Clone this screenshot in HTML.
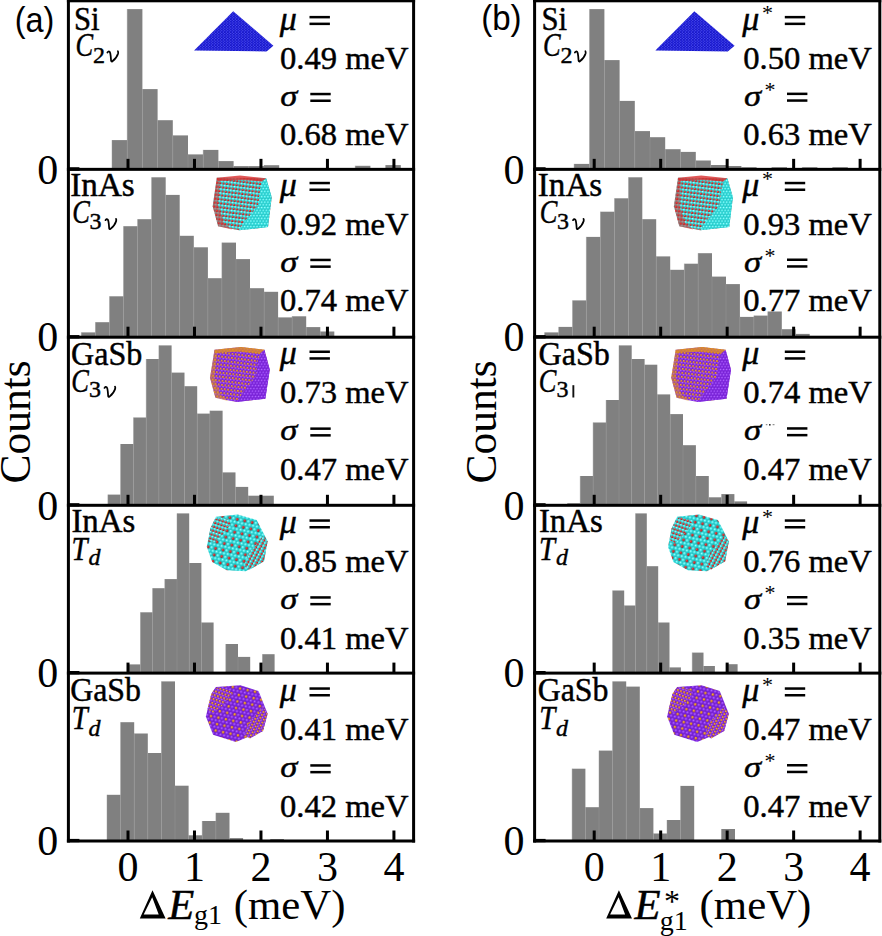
<!DOCTYPE html>
<html><head><meta charset="utf-8"><title>Histograms</title>
<style>
html,body{margin:0;padding:0;background:#fff;}
body{width:882px;height:936px;overflow:hidden;position:relative;font-family:"Liberation Serif",serif;}
svg{position:absolute;left:0;top:0;}
</style></head><body>
<svg width="882" height="936" viewBox="0 0 882 936">

<defs>
 <radialGradient id="gC" cx="0.4" cy="0.35" r="0.65"><stop offset="0" stop-color="#b8ffff"/><stop offset="0.45" stop-color="#44ecec"/><stop offset="1" stop-color="#20bcbc"/></radialGradient>
 <radialGradient id="gR" cx="0.4" cy="0.35" r="0.65"><stop offset="0" stop-color="#ff7070"/><stop offset="0.45" stop-color="#e02626"/><stop offset="1" stop-color="#a01515"/></radialGradient>
 <radialGradient id="gP" cx="0.4" cy="0.35" r="0.65"><stop offset="0" stop-color="#b878ff"/><stop offset="0.45" stop-color="#8e34ee"/><stop offset="1" stop-color="#6818c4"/></radialGradient>
 <radialGradient id="gO" cx="0.4" cy="0.35" r="0.65"><stop offset="0" stop-color="#ffc060"/><stop offset="0.45" stop-color="#ec9420"/><stop offset="1" stop-color="#b86a10"/></radialGradient>
 <radialGradient id="gB" cx="0.4" cy="0.35" r="0.65"><stop offset="0" stop-color="#5a5aff"/><stop offset="0.5" stop-color="#2020d8"/><stop offset="1" stop-color="#1212a8"/></radialGradient>
 <pattern id="pSi" width="3" height="2.6" patternUnits="userSpaceOnUse">
  <rect width="3" height="2.6" fill="#1818b8"/>
  <circle cx="0" cy="0" r="1.35" fill="url(#gB)"/><circle cx="3" cy="0" r="1.35" fill="url(#gB)"/>
  <circle cx="1.5" cy="1.3" r="1.35" fill="url(#gB)"/>
  <circle cx="0" cy="2.6" r="1.35" fill="url(#gB)"/><circle cx="3" cy="2.6" r="1.35" fill="url(#gB)"/>
 </pattern>
 <pattern id="pInMix" width="3.3" height="4" patternUnits="userSpaceOnUse" patternTransform="rotate(7)">
  <rect width="3.3" height="4" fill="#30c4c4"/>
  <circle cx="1.65" cy="1.0" r="1.7" fill="url(#gC)"/>
  <circle cx="0" cy="3.0" r="1.15" fill="url(#gR)"/><circle cx="3.3" cy="3.0" r="1.15" fill="url(#gR)"/>
 </pattern>
 <pattern id="pInCy" width="3.1" height="5.4" patternUnits="userSpaceOnUse">
  <rect width="3.1" height="5.4" fill="#30c8c8"/>
  <circle cx="0" cy="0" r="1.5" fill="url(#gC)"/><circle cx="3.1" cy="0" r="1.5" fill="url(#gC)"/>
  <circle cx="0" cy="5.4" r="1.5" fill="url(#gC)"/><circle cx="3.1" cy="5.4" r="1.5" fill="url(#gC)"/>
  <circle cx="1.55" cy="2.7" r="1.5" fill="url(#gC)"/>
 </pattern>
 <pattern id="pInTd" width="7.6" height="6.6" patternUnits="userSpaceOnUse" patternTransform="rotate(12)">
  <rect width="7.6" height="6.6" fill="#28b8b8"/>
  <circle cx="0" cy="0" r="1.85" fill="url(#gC)"/><circle cx="3.8" cy="0" r="1.85" fill="url(#gC)"/><circle cx="7.6" cy="0" r="1.85" fill="url(#gC)"/>
  <circle cx="1.9" cy="3.3" r="1.85" fill="url(#gC)"/>
  <circle cx="0" cy="6.6" r="1.85" fill="url(#gC)"/><circle cx="3.8" cy="6.6" r="1.85" fill="url(#gC)"/><circle cx="7.6" cy="6.6" r="1.85" fill="url(#gC)"/>
  <circle cx="5.7" cy="3.3" r="1.35" fill="url(#gR)"/>
 </pattern>
 <pattern id="pGaMix" width="3.3" height="4" patternUnits="userSpaceOnUse" patternTransform="rotate(7)">
  <rect width="3.3" height="4" fill="#8030d8"/>
  <circle cx="1.65" cy="1.0" r="1.7" fill="url(#gP)"/>
  <circle cx="0" cy="3.0" r="1.1" fill="url(#gO)"/><circle cx="3.3" cy="3.0" r="1.1" fill="url(#gO)"/>
 </pattern>
 <pattern id="pGaPu" width="3.1" height="5.4" patternUnits="userSpaceOnUse">
  <rect width="3.1" height="5.4" fill="#8430dc"/>
  <circle cx="0" cy="0" r="1.5" fill="url(#gP)"/><circle cx="3.1" cy="0" r="1.5" fill="url(#gP)"/>
  <circle cx="0" cy="5.4" r="1.5" fill="url(#gP)"/><circle cx="3.1" cy="5.4" r="1.5" fill="url(#gP)"/>
  <circle cx="1.55" cy="2.7" r="1.5" fill="url(#gP)"/>
 </pattern>
 <pattern id="pGaTd" width="7.6" height="6.6" patternUnits="userSpaceOnUse" patternTransform="rotate(12)">
  <rect width="7.6" height="6.6" fill="#7020c8"/>
  <circle cx="0" cy="0" r="1.85" fill="url(#gP)"/><circle cx="3.8" cy="0" r="1.85" fill="url(#gP)"/><circle cx="7.6" cy="0" r="1.85" fill="url(#gP)"/>
  <circle cx="1.9" cy="3.3" r="1.85" fill="url(#gP)"/>
  <circle cx="0" cy="6.6" r="1.85" fill="url(#gP)"/><circle cx="3.8" cy="6.6" r="1.85" fill="url(#gP)"/><circle cx="7.6" cy="6.6" r="1.85" fill="url(#gP)"/>
  <circle cx="5.7" cy="3.3" r="1.35" fill="url(#gO)"/>
 </pattern>
 <pattern id="pInStr1" width="3.3" height="4" patternUnits="userSpaceOnUse" patternTransform="rotate(18)">
  <rect width="3.3" height="4" fill="#30c4c4"/>
  <circle cx="1.65" cy="1.0" r="1.7" fill="url(#gC)"/>
  <circle cx="0" cy="3.0" r="1.2" fill="url(#gR)"/><circle cx="3.3" cy="3.0" r="1.2" fill="url(#gR)"/>
 </pattern>
 <pattern id="pInStr2" width="3.3" height="4" patternUnits="userSpaceOnUse" patternTransform="rotate(-62)">
  <rect width="3.3" height="4" fill="#30c4c4"/>
  <circle cx="1.65" cy="1.0" r="1.7" fill="url(#gC)"/>
  <circle cx="0" cy="3.0" r="1.2" fill="url(#gR)"/><circle cx="3.3" cy="3.0" r="1.2" fill="url(#gR)"/>
 </pattern>
 <pattern id="pGaStr1" width="3.3" height="4" patternUnits="userSpaceOnUse" patternTransform="rotate(18)">
  <rect width="3.3" height="4" fill="#7020c8"/>
  <circle cx="1.65" cy="1.0" r="1.7" fill="url(#gP)"/>
  <circle cx="0" cy="3.0" r="1.15" fill="url(#gO)"/><circle cx="3.3" cy="3.0" r="1.15" fill="url(#gO)"/>
 </pattern>
 <pattern id="pGaStr2" width="3.3" height="4" patternUnits="userSpaceOnUse" patternTransform="rotate(-62)">
  <rect width="3.3" height="4" fill="#7020c8"/>
  <circle cx="1.65" cy="1.0" r="1.7" fill="url(#gP)"/>
  <circle cx="0" cy="3.0" r="1.15" fill="url(#gO)"/><circle cx="3.3" cy="3.0" r="1.15" fill="url(#gO)"/>
 </pattern>
</defs>

<rect x="112" y="140.1" width="15.2" height="29.25" fill="#808080"/>
<rect x="127.2" y="9.1" width="15.2" height="160.25" fill="#808080"/>
<rect x="142.4" y="89.1" width="15.2" height="80.25" fill="#808080"/>
<rect x="157.6" y="120.2" width="15.2" height="49.15" fill="#808080"/>
<rect x="172.8" y="135.4" width="15.2" height="33.95" fill="#808080"/>
<rect x="188" y="154.4" width="15.2" height="14.95" fill="#808080"/>
<rect x="203.2" y="149.9" width="15.2" height="19.45" fill="#808080"/>
<rect x="218.4" y="161.1" width="15.2" height="8.25" fill="#808080"/>
<rect x="233.6" y="166.1" width="15.2" height="3.25" fill="#808080"/>
<rect x="248.8" y="166.1" width="15.2" height="3.25" fill="#808080"/>
<rect x="264" y="165.2" width="15.2" height="4.15" fill="#808080"/>
<rect x="355.2" y="165.8" width="15.2" height="3.55" fill="#808080"/>
<rect x="385.6" y="165.1" width="15.2" height="4.25" fill="#808080"/>
<rect x="111.6" y="140.1" width="0.8" height="29.25" fill="#999" opacity="0.55"/>
<rect x="126.8" y="9.1" width="0.8" height="160.25" fill="#999" opacity="0.55"/>
<rect x="142" y="89.1" width="0.8" height="80.25" fill="#999" opacity="0.55"/>
<rect x="157.2" y="120.2" width="0.8" height="49.15" fill="#999" opacity="0.55"/>
<rect x="172.4" y="135.4" width="0.8" height="33.95" fill="#999" opacity="0.55"/>
<rect x="187.6" y="154.4" width="0.8" height="14.95" fill="#999" opacity="0.55"/>
<rect x="202.8" y="149.9" width="0.8" height="19.45" fill="#999" opacity="0.55"/>
<rect x="218" y="161.1" width="0.8" height="8.25" fill="#999" opacity="0.55"/>
<rect x="233.2" y="166.1" width="0.8" height="3.25" fill="#999" opacity="0.55"/>
<rect x="248.4" y="166.1" width="0.8" height="3.25" fill="#999" opacity="0.55"/>
<rect x="263.6" y="165.2" width="0.8" height="4.15" fill="#999" opacity="0.55"/>
<rect x="354.8" y="165.8" width="0.8" height="3.55" fill="#999" opacity="0.55"/>
<rect x="385.2" y="165.1" width="0.8" height="4.25" fill="#999" opacity="0.55"/>
<rect x="574.1" y="163.9" width="15.4" height="5.45" fill="#808080"/>
<rect x="589.5" y="9.1" width="14.9" height="160.25" fill="#808080"/>
<rect x="604.4" y="60.1" width="15.2" height="109.25" fill="#808080"/>
<rect x="619.6" y="100.9" width="15.2" height="68.45" fill="#808080"/>
<rect x="634.8" y="131.1" width="15.2" height="38.25" fill="#808080"/>
<rect x="650" y="137.2" width="15.2" height="32.15" fill="#808080"/>
<rect x="665.2" y="149.2" width="15.4" height="20.15" fill="#808080"/>
<rect x="680.6" y="151.9" width="15.2" height="17.45" fill="#808080"/>
<rect x="695.8" y="160.5" width="15" height="8.85" fill="#808080"/>
<rect x="710.8" y="165" width="15.2" height="4.35" fill="#808080"/>
<rect x="726" y="166" width="15.4" height="3.35" fill="#808080"/>
<rect x="741.4" y="167.2" width="15.2" height="2.15" fill="#808080"/>
<rect x="771.8" y="167.2" width="15.2" height="2.15" fill="#808080"/>
<rect x="802.2" y="167.2" width="15.2" height="2.15" fill="#808080"/>
<rect x="832.6" y="167.2" width="15.2" height="2.15" fill="#808080"/>
<rect x="573.7" y="163.9" width="0.8" height="5.45" fill="#999" opacity="0.55"/>
<rect x="589.1" y="9.1" width="0.8" height="160.25" fill="#999" opacity="0.55"/>
<rect x="604" y="60.1" width="0.8" height="109.25" fill="#999" opacity="0.55"/>
<rect x="619.2" y="100.9" width="0.8" height="68.45" fill="#999" opacity="0.55"/>
<rect x="634.4" y="131.1" width="0.8" height="38.25" fill="#999" opacity="0.55"/>
<rect x="649.6" y="137.2" width="0.8" height="32.15" fill="#999" opacity="0.55"/>
<rect x="664.8" y="149.2" width="0.8" height="20.15" fill="#999" opacity="0.55"/>
<rect x="680.2" y="151.9" width="0.8" height="17.45" fill="#999" opacity="0.55"/>
<rect x="695.4" y="160.5" width="0.8" height="8.85" fill="#999" opacity="0.55"/>
<rect x="710.4" y="165" width="0.8" height="4.35" fill="#999" opacity="0.55"/>
<rect x="725.6" y="166" width="0.8" height="3.35" fill="#999" opacity="0.55"/>
<rect x="741" y="167.2" width="0.8" height="2.15" fill="#999" opacity="0.55"/>
<rect x="771.4" y="167.2" width="0.8" height="2.15" fill="#999" opacity="0.55"/>
<rect x="801.8" y="167.2" width="0.8" height="2.15" fill="#999" opacity="0.55"/>
<rect x="832.2" y="167.2" width="0.8" height="2.15" fill="#999" opacity="0.55"/>
<rect x="81.3" y="332.4" width="14.1" height="4.8" fill="#808080"/>
<rect x="95.4" y="322.2" width="14.1" height="15" fill="#808080"/>
<rect x="109.5" y="296.3" width="14" height="40.9" fill="#808080"/>
<rect x="123.5" y="226.2" width="14.1" height="111" fill="#808080"/>
<rect x="137.6" y="219.2" width="14" height="118" fill="#808080"/>
<rect x="151.6" y="177.3" width="14.1" height="159.9" fill="#808080"/>
<rect x="165.7" y="194.9" width="14" height="142.3" fill="#808080"/>
<rect x="179.7" y="235.8" width="14.1" height="101.4" fill="#808080"/>
<rect x="193.8" y="247.3" width="14.1" height="89.9" fill="#808080"/>
<rect x="207.9" y="278.2" width="14" height="59" fill="#808080"/>
<rect x="221.9" y="242.6" width="14.1" height="94.6" fill="#808080"/>
<rect x="236" y="259.1" width="14" height="78.1" fill="#808080"/>
<rect x="250" y="288.2" width="14.1" height="49" fill="#808080"/>
<rect x="264.1" y="291.8" width="14" height="45.4" fill="#808080"/>
<rect x="278.1" y="317.4" width="14" height="19.8" fill="#808080"/>
<rect x="292.1" y="316.3" width="14.1" height="20.9" fill="#808080"/>
<rect x="306.2" y="327.1" width="14.1" height="10.1" fill="#808080"/>
<rect x="320.3" y="331.5" width="14" height="5.7" fill="#808080"/>
<rect x="80.9" y="332.4" width="0.8" height="4.8" fill="#999" opacity="0.55"/>
<rect x="95" y="322.2" width="0.8" height="15" fill="#999" opacity="0.55"/>
<rect x="109.1" y="296.3" width="0.8" height="40.9" fill="#999" opacity="0.55"/>
<rect x="123.1" y="226.2" width="0.8" height="111" fill="#999" opacity="0.55"/>
<rect x="137.2" y="219.2" width="0.8" height="118" fill="#999" opacity="0.55"/>
<rect x="151.2" y="177.3" width="0.8" height="159.9" fill="#999" opacity="0.55"/>
<rect x="165.3" y="194.9" width="0.8" height="142.3" fill="#999" opacity="0.55"/>
<rect x="179.3" y="235.8" width="0.8" height="101.4" fill="#999" opacity="0.55"/>
<rect x="193.4" y="247.3" width="0.8" height="89.9" fill="#999" opacity="0.55"/>
<rect x="207.5" y="278.2" width="0.8" height="59" fill="#999" opacity="0.55"/>
<rect x="221.5" y="242.6" width="0.8" height="94.6" fill="#999" opacity="0.55"/>
<rect x="235.6" y="259.1" width="0.8" height="78.1" fill="#999" opacity="0.55"/>
<rect x="249.6" y="288.2" width="0.8" height="49" fill="#999" opacity="0.55"/>
<rect x="263.7" y="291.8" width="0.8" height="45.4" fill="#999" opacity="0.55"/>
<rect x="277.7" y="317.4" width="0.8" height="19.8" fill="#999" opacity="0.55"/>
<rect x="291.7" y="316.3" width="0.8" height="20.9" fill="#999" opacity="0.55"/>
<rect x="305.8" y="327.1" width="0.8" height="10.1" fill="#999" opacity="0.55"/>
<rect x="319.9" y="331.5" width="0.8" height="5.7" fill="#999" opacity="0.55"/>
<rect x="544.6" y="332.4" width="14.1" height="4.8" fill="#808080"/>
<rect x="558.7" y="326.9" width="13.8" height="10.3" fill="#808080"/>
<rect x="572.5" y="300.4" width="13.8" height="36.8" fill="#808080"/>
<rect x="586.3" y="236.9" width="14.1" height="100.3" fill="#808080"/>
<rect x="600.4" y="211.7" width="14.1" height="125.5" fill="#808080"/>
<rect x="614.5" y="198.3" width="14" height="138.9" fill="#808080"/>
<rect x="628.5" y="177.3" width="13.8" height="159.9" fill="#808080"/>
<rect x="642.3" y="219.2" width="13.9" height="118" fill="#808080"/>
<rect x="656.2" y="256.4" width="14" height="80.8" fill="#808080"/>
<rect x="670.2" y="269.8" width="14.1" height="67.4" fill="#808080"/>
<rect x="684.3" y="263.7" width="13.8" height="73.5" fill="#808080"/>
<rect x="698.1" y="253.2" width="13.9" height="84" fill="#808080"/>
<rect x="712" y="276.6" width="14" height="60.6" fill="#808080"/>
<rect x="726" y="284.1" width="13.9" height="53.1" fill="#808080"/>
<rect x="739.9" y="316.9" width="14" height="20.3" fill="#808080"/>
<rect x="753.9" y="315.6" width="13.9" height="21.6" fill="#808080"/>
<rect x="767.8" y="311.5" width="14" height="25.7" fill="#808080"/>
<rect x="781.8" y="329.2" width="13.8" height="8" fill="#808080"/>
<rect x="795.6" y="333.9" width="14.1" height="3.3" fill="#808080"/>
<rect x="544.2" y="332.4" width="0.8" height="4.8" fill="#999" opacity="0.55"/>
<rect x="558.3" y="326.9" width="0.8" height="10.3" fill="#999" opacity="0.55"/>
<rect x="572.1" y="300.4" width="0.8" height="36.8" fill="#999" opacity="0.55"/>
<rect x="585.9" y="236.9" width="0.8" height="100.3" fill="#999" opacity="0.55"/>
<rect x="600" y="211.7" width="0.8" height="125.5" fill="#999" opacity="0.55"/>
<rect x="614.1" y="198.3" width="0.8" height="138.9" fill="#999" opacity="0.55"/>
<rect x="628.1" y="177.3" width="0.8" height="159.9" fill="#999" opacity="0.55"/>
<rect x="641.9" y="219.2" width="0.8" height="118" fill="#999" opacity="0.55"/>
<rect x="655.8" y="256.4" width="0.8" height="80.8" fill="#999" opacity="0.55"/>
<rect x="669.8" y="269.8" width="0.8" height="67.4" fill="#999" opacity="0.55"/>
<rect x="683.9" y="263.7" width="0.8" height="73.5" fill="#999" opacity="0.55"/>
<rect x="697.7" y="253.2" width="0.8" height="84" fill="#999" opacity="0.55"/>
<rect x="711.6" y="276.6" width="0.8" height="60.6" fill="#999" opacity="0.55"/>
<rect x="725.6" y="284.1" width="0.8" height="53.1" fill="#999" opacity="0.55"/>
<rect x="739.5" y="316.9" width="0.8" height="20.3" fill="#999" opacity="0.55"/>
<rect x="753.5" y="315.6" width="0.8" height="21.6" fill="#999" opacity="0.55"/>
<rect x="767.4" y="311.5" width="0.8" height="25.7" fill="#999" opacity="0.55"/>
<rect x="781.4" y="329.2" width="0.8" height="8" fill="#999" opacity="0.55"/>
<rect x="795.2" y="333.9" width="0.8" height="3.3" fill="#999" opacity="0.55"/>
<rect x="107.9" y="494.6" width="12.7" height="10.7" fill="#808080"/>
<rect x="120.6" y="444" width="12.9" height="61.3" fill="#808080"/>
<rect x="133.5" y="417.5" width="12.7" height="87.8" fill="#808080"/>
<rect x="146.2" y="359" width="12.7" height="146.3" fill="#808080"/>
<rect x="158.9" y="345.4" width="12.7" height="159.9" fill="#808080"/>
<rect x="171.6" y="372.6" width="12.9" height="132.7" fill="#808080"/>
<rect x="184.5" y="386.2" width="12.7" height="119.1" fill="#808080"/>
<rect x="197.2" y="413.6" width="12.7" height="91.7" fill="#808080"/>
<rect x="209.9" y="410.7" width="12.7" height="94.6" fill="#808080"/>
<rect x="222.6" y="472.4" width="12.9" height="32.9" fill="#808080"/>
<rect x="235.5" y="486.9" width="12.7" height="18.4" fill="#808080"/>
<rect x="248.2" y="495.7" width="12.8" height="9.6" fill="#808080"/>
<rect x="261" y="495.7" width="12.8" height="9.6" fill="#808080"/>
<rect x="107.5" y="494.6" width="0.8" height="10.7" fill="#999" opacity="0.55"/>
<rect x="120.2" y="444" width="0.8" height="61.3" fill="#999" opacity="0.55"/>
<rect x="133.1" y="417.5" width="0.8" height="87.8" fill="#999" opacity="0.55"/>
<rect x="145.8" y="359" width="0.8" height="146.3" fill="#999" opacity="0.55"/>
<rect x="158.5" y="345.4" width="0.8" height="159.9" fill="#999" opacity="0.55"/>
<rect x="171.2" y="372.6" width="0.8" height="132.7" fill="#999" opacity="0.55"/>
<rect x="184.1" y="386.2" width="0.8" height="119.1" fill="#999" opacity="0.55"/>
<rect x="196.8" y="413.6" width="0.8" height="91.7" fill="#999" opacity="0.55"/>
<rect x="209.5" y="410.7" width="0.8" height="94.6" fill="#999" opacity="0.55"/>
<rect x="222.2" y="472.4" width="0.8" height="32.9" fill="#999" opacity="0.55"/>
<rect x="235.1" y="486.9" width="0.8" height="18.4" fill="#999" opacity="0.55"/>
<rect x="247.8" y="495.7" width="0.8" height="9.6" fill="#999" opacity="0.55"/>
<rect x="260.6" y="495.7" width="0.8" height="9.6" fill="#999" opacity="0.55"/>
<rect x="567.4" y="503.2" width="12.8" height="2.1" fill="#808080"/>
<rect x="580.2" y="476" width="12.9" height="29.3" fill="#808080"/>
<rect x="593.1" y="422.5" width="13" height="82.8" fill="#808080"/>
<rect x="606.1" y="400" width="12.9" height="105.3" fill="#808080"/>
<rect x="619" y="345.4" width="12.7" height="159.9" fill="#808080"/>
<rect x="631.7" y="359" width="12.9" height="146.3" fill="#808080"/>
<rect x="644.6" y="364.7" width="12.7" height="140.6" fill="#808080"/>
<rect x="657.3" y="394.4" width="12.9" height="110.9" fill="#808080"/>
<rect x="670.2" y="414.1" width="12.8" height="91.2" fill="#808080"/>
<rect x="683" y="445.2" width="12.9" height="60.1" fill="#808080"/>
<rect x="695.9" y="476" width="12.9" height="29.3" fill="#808080"/>
<rect x="708.8" y="497.3" width="12.7" height="8" fill="#808080"/>
<rect x="721.5" y="494.1" width="12.9" height="11.2" fill="#808080"/>
<rect x="734.4" y="501.4" width="12.7" height="3.9" fill="#808080"/>
<rect x="567" y="503.2" width="0.8" height="2.1" fill="#999" opacity="0.55"/>
<rect x="579.8" y="476" width="0.8" height="29.3" fill="#999" opacity="0.55"/>
<rect x="592.7" y="422.5" width="0.8" height="82.8" fill="#999" opacity="0.55"/>
<rect x="605.7" y="400" width="0.8" height="105.3" fill="#999" opacity="0.55"/>
<rect x="618.6" y="345.4" width="0.8" height="159.9" fill="#999" opacity="0.55"/>
<rect x="631.3" y="359" width="0.8" height="146.3" fill="#999" opacity="0.55"/>
<rect x="644.2" y="364.7" width="0.8" height="140.6" fill="#999" opacity="0.55"/>
<rect x="656.9" y="394.4" width="0.8" height="110.9" fill="#999" opacity="0.55"/>
<rect x="669.8" y="414.1" width="0.8" height="91.2" fill="#999" opacity="0.55"/>
<rect x="682.6" y="445.2" width="0.8" height="60.1" fill="#999" opacity="0.55"/>
<rect x="695.5" y="476" width="0.8" height="29.3" fill="#999" opacity="0.55"/>
<rect x="708.4" y="497.3" width="0.8" height="8" fill="#999" opacity="0.55"/>
<rect x="721.1" y="494.1" width="0.8" height="11.2" fill="#999" opacity="0.55"/>
<rect x="734" y="501.4" width="0.8" height="3.9" fill="#999" opacity="0.55"/>
<rect x="128.2" y="664.4" width="12.2" height="8.7" fill="#808080"/>
<rect x="140.4" y="612.3" width="12.2" height="60.8" fill="#808080"/>
<rect x="152.6" y="588.2" width="12.2" height="84.9" fill="#808080"/>
<rect x="164.8" y="579.1" width="12.2" height="94" fill="#808080"/>
<rect x="177" y="513.4" width="12.2" height="159.7" fill="#808080"/>
<rect x="189.2" y="563" width="12.2" height="110.1" fill="#808080"/>
<rect x="201.4" y="622.5" width="12.2" height="50.6" fill="#808080"/>
<rect x="225.8" y="644" width="12.2" height="29.1" fill="#808080"/>
<rect x="238" y="656.9" width="12.2" height="16.2" fill="#808080"/>
<rect x="262.4" y="654.2" width="12.2" height="18.9" fill="#808080"/>
<rect x="127.8" y="664.4" width="0.8" height="8.7" fill="#999" opacity="0.55"/>
<rect x="140" y="612.3" width="0.8" height="60.8" fill="#999" opacity="0.55"/>
<rect x="152.2" y="588.2" width="0.8" height="84.9" fill="#999" opacity="0.55"/>
<rect x="164.4" y="579.1" width="0.8" height="94" fill="#999" opacity="0.55"/>
<rect x="176.6" y="513.4" width="0.8" height="159.7" fill="#999" opacity="0.55"/>
<rect x="188.8" y="563" width="0.8" height="110.1" fill="#999" opacity="0.55"/>
<rect x="201" y="622.5" width="0.8" height="50.6" fill="#999" opacity="0.55"/>
<rect x="225.4" y="644" width="0.8" height="29.1" fill="#999" opacity="0.55"/>
<rect x="237.6" y="656.9" width="0.8" height="16.2" fill="#999" opacity="0.55"/>
<rect x="262" y="654.2" width="0.8" height="18.9" fill="#999" opacity="0.55"/>
<rect x="612.6" y="590.5" width="11.6" height="82.6" fill="#808080"/>
<rect x="624.2" y="605.5" width="11.3" height="67.6" fill="#808080"/>
<rect x="635.5" y="513.4" width="11.3" height="159.7" fill="#808080"/>
<rect x="646.8" y="566.2" width="11.4" height="106.9" fill="#808080"/>
<rect x="658.2" y="622.5" width="11.3" height="50.6" fill="#808080"/>
<rect x="669.5" y="667.4" width="11.4" height="5.7" fill="#808080"/>
<rect x="692.2" y="652.6" width="11.3" height="20.5" fill="#808080"/>
<rect x="703.5" y="666" width="11.4" height="7.1" fill="#808080"/>
<rect x="726.2" y="664.2" width="11.4" height="8.9" fill="#808080"/>
<rect x="612.2" y="590.5" width="0.8" height="82.6" fill="#999" opacity="0.55"/>
<rect x="623.8" y="605.5" width="0.8" height="67.6" fill="#999" opacity="0.55"/>
<rect x="635.1" y="513.4" width="0.8" height="159.7" fill="#999" opacity="0.55"/>
<rect x="646.4" y="566.2" width="0.8" height="106.9" fill="#999" opacity="0.55"/>
<rect x="657.8" y="622.5" width="0.8" height="50.6" fill="#999" opacity="0.55"/>
<rect x="669.1" y="667.4" width="0.8" height="5.7" fill="#999" opacity="0.55"/>
<rect x="691.8" y="652.6" width="0.8" height="20.5" fill="#999" opacity="0.55"/>
<rect x="703.1" y="666" width="0.8" height="7.1" fill="#999" opacity="0.55"/>
<rect x="725.8" y="664.2" width="0.8" height="8.9" fill="#999" opacity="0.55"/>
<rect x="107" y="794.8" width="13.6" height="46.2" fill="#808080"/>
<rect x="120.6" y="722.2" width="13.6" height="118.8" fill="#808080"/>
<rect x="134.2" y="733.5" width="13.6" height="107.5" fill="#808080"/>
<rect x="147.8" y="753" width="13.6" height="88" fill="#808080"/>
<rect x="161.4" y="681.4" width="13.6" height="159.6" fill="#808080"/>
<rect x="175" y="785.7" width="13.6" height="55.3" fill="#808080"/>
<rect x="188.6" y="835.3" width="13.6" height="5.7" fill="#808080"/>
<rect x="202.2" y="821" width="13.7" height="20" fill="#808080"/>
<rect x="215.9" y="812.8" width="13.6" height="28.2" fill="#808080"/>
<rect x="229.5" y="838.1" width="13.6" height="2.9" fill="#808080"/>
<rect x="270.3" y="839" width="13.6" height="2" fill="#808080"/>
<rect x="106.6" y="794.8" width="0.8" height="46.2" fill="#999" opacity="0.55"/>
<rect x="120.2" y="722.2" width="0.8" height="118.8" fill="#999" opacity="0.55"/>
<rect x="133.8" y="733.5" width="0.8" height="107.5" fill="#999" opacity="0.55"/>
<rect x="147.4" y="753" width="0.8" height="88" fill="#999" opacity="0.55"/>
<rect x="161" y="681.4" width="0.8" height="159.6" fill="#999" opacity="0.55"/>
<rect x="174.6" y="785.7" width="0.8" height="55.3" fill="#999" opacity="0.55"/>
<rect x="188.2" y="835.3" width="0.8" height="5.7" fill="#999" opacity="0.55"/>
<rect x="201.8" y="821" width="0.8" height="20" fill="#999" opacity="0.55"/>
<rect x="215.5" y="812.8" width="0.8" height="28.2" fill="#999" opacity="0.55"/>
<rect x="229.1" y="838.1" width="0.8" height="2.9" fill="#999" opacity="0.55"/>
<rect x="269.9" y="839" width="0.8" height="2" fill="#999" opacity="0.55"/>
<rect x="572.1" y="768.7" width="13.3" height="72.3" fill="#808080"/>
<rect x="585.4" y="807.2" width="13.6" height="33.8" fill="#808080"/>
<rect x="599" y="750.6" width="13.6" height="90.4" fill="#808080"/>
<rect x="612.6" y="681.4" width="13.6" height="159.6" fill="#808080"/>
<rect x="626.2" y="686.6" width="13.6" height="154.4" fill="#808080"/>
<rect x="639.8" y="808.1" width="13.6" height="32.9" fill="#808080"/>
<rect x="653.4" y="833.5" width="13.6" height="7.5" fill="#808080"/>
<rect x="667" y="820" width="13.6" height="21" fill="#808080"/>
<rect x="680.6" y="785.9" width="13.6" height="55.1" fill="#808080"/>
<rect x="721.4" y="829" width="13.6" height="12" fill="#808080"/>
<rect x="571.7" y="768.7" width="0.8" height="72.3" fill="#999" opacity="0.55"/>
<rect x="585" y="807.2" width="0.8" height="33.8" fill="#999" opacity="0.55"/>
<rect x="598.6" y="750.6" width="0.8" height="90.4" fill="#999" opacity="0.55"/>
<rect x="612.2" y="681.4" width="0.8" height="159.6" fill="#999" opacity="0.55"/>
<rect x="625.8" y="686.6" width="0.8" height="154.4" fill="#999" opacity="0.55"/>
<rect x="639.4" y="808.1" width="0.8" height="32.9" fill="#999" opacity="0.55"/>
<rect x="653" y="833.5" width="0.8" height="7.5" fill="#999" opacity="0.55"/>
<rect x="666.6" y="820" width="0.8" height="21" fill="#999" opacity="0.55"/>
<rect x="680.2" y="785.9" width="0.8" height="55.1" fill="#999" opacity="0.55"/>
<rect x="721" y="829" width="0.8" height="12" fill="#999" opacity="0.55"/>
<rect x="66.9" y="-0.7" width="3" height="843.2" fill="#000"/>
<rect x="412.1" y="-0.7" width="3" height="843.2" fill="#000"/>
<rect x="66.9" y="-0.7" width="348.2" height="3" fill="#000"/>
<rect x="66.9" y="167.85" width="348.2" height="3" fill="#000"/>
<rect x="126.5" y="158.85" width="3" height="9.5" fill="#000"/>
<rect x="192.98" y="158.85" width="3" height="9.5" fill="#000"/>
<rect x="259.46" y="158.85" width="3" height="9.5" fill="#000"/>
<rect x="325.94" y="158.85" width="3" height="9.5" fill="#000"/>
<rect x="392.42" y="158.85" width="3" height="9.5" fill="#000"/>
<rect x="68.4" y="167.25" width="11" height="3.3" fill="#000"/>
<rect x="66.9" y="335.7" width="348.2" height="3" fill="#000"/>
<rect x="126.5" y="326.7" width="3" height="9.5" fill="#000"/>
<rect x="192.98" y="326.7" width="3" height="9.5" fill="#000"/>
<rect x="259.46" y="326.7" width="3" height="9.5" fill="#000"/>
<rect x="325.94" y="326.7" width="3" height="9.5" fill="#000"/>
<rect x="392.42" y="326.7" width="3" height="9.5" fill="#000"/>
<rect x="68.4" y="335.1" width="11" height="3.3" fill="#000"/>
<rect x="66.9" y="503.8" width="348.2" height="3" fill="#000"/>
<rect x="126.5" y="494.8" width="3" height="9.5" fill="#000"/>
<rect x="192.98" y="494.8" width="3" height="9.5" fill="#000"/>
<rect x="259.46" y="494.8" width="3" height="9.5" fill="#000"/>
<rect x="325.94" y="494.8" width="3" height="9.5" fill="#000"/>
<rect x="392.42" y="494.8" width="3" height="9.5" fill="#000"/>
<rect x="68.4" y="503.2" width="11" height="3.3" fill="#000"/>
<rect x="66.9" y="671.6" width="348.2" height="3" fill="#000"/>
<rect x="126.5" y="662.6" width="3" height="9.5" fill="#000"/>
<rect x="192.98" y="662.6" width="3" height="9.5" fill="#000"/>
<rect x="259.46" y="662.6" width="3" height="9.5" fill="#000"/>
<rect x="325.94" y="662.6" width="3" height="9.5" fill="#000"/>
<rect x="392.42" y="662.6" width="3" height="9.5" fill="#000"/>
<rect x="68.4" y="671" width="11" height="3.3" fill="#000"/>
<rect x="66.9" y="839.5" width="348.2" height="3" fill="#000"/>
<rect x="126.5" y="830.5" width="3" height="9.5" fill="#000"/>
<rect x="192.98" y="830.5" width="3" height="9.5" fill="#000"/>
<rect x="259.46" y="830.5" width="3" height="9.5" fill="#000"/>
<rect x="325.94" y="830.5" width="3" height="9.5" fill="#000"/>
<rect x="392.42" y="830.5" width="3" height="9.5" fill="#000"/>
<rect x="68.4" y="838.9" width="11" height="3.3" fill="#000"/>
<rect x="533.1" y="-0.7" width="3" height="843.2" fill="#000"/>
<rect x="878.3" y="-0.7" width="3" height="843.2" fill="#000"/>
<rect x="533.1" y="-0.7" width="348.2" height="3" fill="#000"/>
<rect x="533.1" y="167.85" width="348.2" height="3" fill="#000"/>
<rect x="592.7" y="158.85" width="3" height="9.5" fill="#000"/>
<rect x="659.18" y="158.85" width="3" height="9.5" fill="#000"/>
<rect x="725.66" y="158.85" width="3" height="9.5" fill="#000"/>
<rect x="792.14" y="158.85" width="3" height="9.5" fill="#000"/>
<rect x="858.62" y="158.85" width="3" height="9.5" fill="#000"/>
<rect x="534.6" y="167.25" width="11" height="3.3" fill="#000"/>
<rect x="533.1" y="335.7" width="348.2" height="3" fill="#000"/>
<rect x="592.7" y="326.7" width="3" height="9.5" fill="#000"/>
<rect x="659.18" y="326.7" width="3" height="9.5" fill="#000"/>
<rect x="725.66" y="326.7" width="3" height="9.5" fill="#000"/>
<rect x="792.14" y="326.7" width="3" height="9.5" fill="#000"/>
<rect x="858.62" y="326.7" width="3" height="9.5" fill="#000"/>
<rect x="534.6" y="335.1" width="11" height="3.3" fill="#000"/>
<rect x="533.1" y="503.8" width="348.2" height="3" fill="#000"/>
<rect x="592.7" y="494.8" width="3" height="9.5" fill="#000"/>
<rect x="659.18" y="494.8" width="3" height="9.5" fill="#000"/>
<rect x="725.66" y="494.8" width="3" height="9.5" fill="#000"/>
<rect x="792.14" y="494.8" width="3" height="9.5" fill="#000"/>
<rect x="858.62" y="494.8" width="3" height="9.5" fill="#000"/>
<rect x="534.6" y="503.2" width="11" height="3.3" fill="#000"/>
<rect x="533.1" y="671.6" width="348.2" height="3" fill="#000"/>
<rect x="592.7" y="662.6" width="3" height="9.5" fill="#000"/>
<rect x="659.18" y="662.6" width="3" height="9.5" fill="#000"/>
<rect x="725.66" y="662.6" width="3" height="9.5" fill="#000"/>
<rect x="792.14" y="662.6" width="3" height="9.5" fill="#000"/>
<rect x="858.62" y="662.6" width="3" height="9.5" fill="#000"/>
<rect x="534.6" y="671" width="11" height="3.3" fill="#000"/>
<rect x="533.1" y="839.5" width="348.2" height="3" fill="#000"/>
<rect x="592.7" y="830.5" width="3" height="9.5" fill="#000"/>
<rect x="659.18" y="830.5" width="3" height="9.5" fill="#000"/>
<rect x="725.66" y="830.5" width="3" height="9.5" fill="#000"/>
<rect x="792.14" y="830.5" width="3" height="9.5" fill="#000"/>
<rect x="858.62" y="830.5" width="3" height="9.5" fill="#000"/>
<rect x="534.6" y="838.9" width="11" height="3.3" fill="#000"/>
<text x="47.7" y="183.55" font-family="'Liberation Serif', serif" font-size="42" text-anchor="middle">0</text>
<text x="47.7" y="351.4" font-family="'Liberation Serif', serif" font-size="42" text-anchor="middle">0</text>
<text x="47.7" y="519.5" font-family="'Liberation Serif', serif" font-size="42" text-anchor="middle">0</text>
<text x="47.7" y="687.3" font-family="'Liberation Serif', serif" font-size="42" text-anchor="middle">0</text>
<text x="47.7" y="855.2" font-family="'Liberation Serif', serif" font-size="42" text-anchor="middle">0</text>
<text x="513.9" y="183.55" font-family="'Liberation Serif', serif" font-size="42" text-anchor="middle">0</text>
<text x="513.9" y="351.4" font-family="'Liberation Serif', serif" font-size="42" text-anchor="middle">0</text>
<text x="513.9" y="519.5" font-family="'Liberation Serif', serif" font-size="42" text-anchor="middle">0</text>
<text x="513.9" y="687.3" font-family="'Liberation Serif', serif" font-size="42" text-anchor="middle">0</text>
<text x="513.9" y="855.2" font-family="'Liberation Serif', serif" font-size="42" text-anchor="middle">0</text>
<text x="128" y="881" font-family="'Liberation Serif', serif" font-size="42" text-anchor="middle">0</text>
<text x="194.48" y="881" font-family="'Liberation Serif', serif" font-size="42" text-anchor="middle">1</text>
<text x="260.96" y="881" font-family="'Liberation Serif', serif" font-size="42" text-anchor="middle">2</text>
<text x="327.44" y="881" font-family="'Liberation Serif', serif" font-size="42" text-anchor="middle">3</text>
<text x="393.92" y="881" font-family="'Liberation Serif', serif" font-size="42" text-anchor="middle">4</text>
<text x="594.2" y="881" font-family="'Liberation Serif', serif" font-size="42" text-anchor="middle">0</text>
<text x="660.68" y="881" font-family="'Liberation Serif', serif" font-size="42" text-anchor="middle">1</text>
<text x="727.16" y="881" font-family="'Liberation Serif', serif" font-size="42" text-anchor="middle">2</text>
<text x="793.64" y="881" font-family="'Liberation Serif', serif" font-size="42" text-anchor="middle">3</text>
<text x="860.12" y="881" font-family="'Liberation Serif', serif" font-size="42" text-anchor="middle">4</text>
<text transform="translate(29.5,421.9) rotate(-90)" font-family="'Liberation Serif', serif" font-size="43.5" text-anchor="middle">Counts</text>
<text transform="translate(495.7,421.9) rotate(-90)" font-family="'Liberation Serif', serif" font-size="43.5" text-anchor="middle">Counts</text>
<text x="14.8" y="31.7" font-family="'Liberation Sans', sans-serif" font-size="35" textLength="39.6" lengthAdjust="spacingAndGlyphs">(a)</text>
<text x="481.2" y="29.7" font-family="'Liberation Sans', sans-serif" font-size="35" textLength="40.4" lengthAdjust="spacingAndGlyphs">(b)</text>
<path d="M152.5,890.2 L139.8,918.5 L165.6,918.5 Z M152.2,897.3 L143.7,914.4 L158.7,914.4 Z" fill="#000" fill-rule="evenodd"/>
<text x="168.2" y="918.6" font-family="'Liberation Serif', serif" font-size="42" font-style="italic" textLength="26" lengthAdjust="spacingAndGlyphs" stroke="#000" stroke-width="0.5">E</text>
<text x="194.0" y="923.7" font-family="'Liberation Serif', serif" font-size="28">g1</text>
<text x="233.7" y="918.6" font-family="'Liberation Serif', serif" font-size="42" textLength="111.8" lengthAdjust="spacingAndGlyphs">(meV)</text>
<path d="M618.9,890.2 L606.2,918.5 L632,918.5 Z M618.6,897.3 L610.1,914.4 L625.1,914.4 Z" fill="#000" fill-rule="evenodd"/>
<text x="634.6" y="918.6" font-family="'Liberation Serif', serif" font-size="42" font-style="italic" textLength="26" lengthAdjust="spacingAndGlyphs" stroke="#000" stroke-width="0.5">E</text>
<text x="664.0" y="912.3" font-family="'Liberation Serif', serif" font-size="32">*</text>
<text x="659.8" y="929.9" font-family="'Liberation Serif', serif" font-size="28">g1</text>
<text x="699.6" y="918.6" font-family="'Liberation Serif', serif" font-size="42" textLength="111.8" lengthAdjust="spacingAndGlyphs">(meV)</text>
<text x="73.9" y="29.5" font-family="'Liberation Serif', serif" font-size="33" textLength="25.6" lengthAdjust="spacingAndGlyphs" stroke="#000" stroke-width="0.45">Si</text>
<text transform="translate(75.6,55.8) scale(0.8,1)" font-family="'Liberation Serif', serif" font-size="33" font-style="italic" stroke="#000" stroke-width="0.45">C</text>
<text x="93" y="63" font-family="'Liberation Serif', serif" font-size="24" stroke="#000" stroke-width="0.45">2</text>
<path transform="translate(107.2,50.6)" d="M0.2,1.9 Q1.3,0.2 2.5,1.3 Q3.2,2.2 3.5,5.5 L3.9,10.2 Q4.2,11.4 5.2,10.6 Q9.6,7.2 10.9,2.8 Q11.2,1.2 10.7,0.6" fill="none" stroke="#000" stroke-width="1.75" stroke-linecap="round" stroke-linejoin="round"/>
<text x="279.8" y="29.6" font-family="'Liberation Serif', serif" font-size="34" font-style="italic" stroke="#000" stroke-width="0.45">&#956;</text>
<text transform="translate(280.3,105.8) scale(1.02,0.84)" font-family="'Liberation Serif', serif" font-size="34" font-style="italic" stroke="#000" stroke-width="0.45">&#963;</text>
<rect x="309.5" y="15.9" width="20.4" height="2.5" fill="#000"/>
<rect x="309.5" y="22.6" width="20.4" height="2.5" fill="#000"/>
<rect x="310.3" y="92.8" width="20.4" height="2.5" fill="#000"/>
<rect x="310.3" y="99.5" width="20.4" height="2.5" fill="#000"/>
<text x="280" y="68.6" font-family="'Liberation Serif', serif" font-size="32" textLength="128.5" lengthAdjust="spacingAndGlyphs" stroke="#000" stroke-width="0.45">0.49 meV</text>
<text x="280" y="145.2" font-family="'Liberation Serif', serif" font-size="32" textLength="128.5" lengthAdjust="spacingAndGlyphs" stroke="#000" stroke-width="0.45">0.68 meV</text>
<text x="70.3" y="195.5" font-family="'Liberation Serif', serif" font-size="33" textLength="64.4" lengthAdjust="spacingAndGlyphs" stroke="#000" stroke-width="0.45">InAs</text>
<text transform="translate(72.2,223.1) scale(0.8,1)" font-family="'Liberation Serif', serif" font-size="33" font-style="italic" stroke="#000" stroke-width="0.45">C</text>
<text x="89.5" y="228.7" font-family="'Liberation Serif', serif" font-size="24" stroke="#000" stroke-width="0.45">3</text>
<path transform="translate(105.3,218.3)" d="M0.2,1.9 Q1.3,0.2 2.5,1.3 Q3.2,2.2 3.5,5.5 L3.9,10.2 Q4.2,11.4 5.2,10.6 Q9.6,7.2 10.9,2.8 Q11.2,1.2 10.7,0.6" fill="none" stroke="#000" stroke-width="1.75" stroke-linecap="round" stroke-linejoin="round"/>
<text x="279.8" y="195.5" font-family="'Liberation Serif', serif" font-size="34" font-style="italic" stroke="#000" stroke-width="0.45">&#956;</text>
<text transform="translate(280.3,271.7) scale(1.02,0.84)" font-family="'Liberation Serif', serif" font-size="34" font-style="italic" stroke="#000" stroke-width="0.45">&#963;</text>
<rect x="309.5" y="181.8" width="20.4" height="2.5" fill="#000"/>
<rect x="309.5" y="188.5" width="20.4" height="2.5" fill="#000"/>
<rect x="310.3" y="258.7" width="20.4" height="2.5" fill="#000"/>
<rect x="310.3" y="265.4" width="20.4" height="2.5" fill="#000"/>
<text x="280" y="234.5" font-family="'Liberation Serif', serif" font-size="32" textLength="128.5" lengthAdjust="spacingAndGlyphs" stroke="#000" stroke-width="0.45">0.92 meV</text>
<text x="280" y="311.1" font-family="'Liberation Serif', serif" font-size="32" textLength="128.5" lengthAdjust="spacingAndGlyphs" stroke="#000" stroke-width="0.45">0.74 meV</text>
<text x="71.1" y="364.6" font-family="'Liberation Serif', serif" font-size="33" textLength="71.3" lengthAdjust="spacingAndGlyphs" stroke="#000" stroke-width="0.45">GaSb</text>
<text transform="translate(71.2,391.6) scale(0.8,1)" font-family="'Liberation Serif', serif" font-size="33" font-style="italic" stroke="#000" stroke-width="0.45">C</text>
<text x="89" y="396.7" font-family="'Liberation Serif', serif" font-size="24" stroke="#000" stroke-width="0.45">3</text>
<path transform="translate(104.3,386)" d="M0.2,1.9 Q1.3,0.2 2.5,1.3 Q3.2,2.2 3.5,5.5 L3.9,10.2 Q4.2,11.4 5.2,10.6 Q9.6,7.2 10.9,2.8 Q11.2,1.2 10.7,0.6" fill="none" stroke="#000" stroke-width="1.75" stroke-linecap="round" stroke-linejoin="round"/>
<text x="279.8" y="364.2" font-family="'Liberation Serif', serif" font-size="34" font-style="italic" stroke="#000" stroke-width="0.45">&#956;</text>
<text transform="translate(280.3,440.4) scale(1.02,0.84)" font-family="'Liberation Serif', serif" font-size="34" font-style="italic" stroke="#000" stroke-width="0.45">&#963;</text>
<rect x="309.5" y="350.5" width="20.4" height="2.5" fill="#000"/>
<rect x="309.5" y="357.2" width="20.4" height="2.5" fill="#000"/>
<rect x="310.3" y="427.4" width="20.4" height="2.5" fill="#000"/>
<rect x="310.3" y="434.1" width="20.4" height="2.5" fill="#000"/>
<text x="280" y="403.2" font-family="'Liberation Serif', serif" font-size="32" textLength="128.5" lengthAdjust="spacingAndGlyphs" stroke="#000" stroke-width="0.45">0.73 meV</text>
<text x="280" y="479.8" font-family="'Liberation Serif', serif" font-size="32" textLength="128.5" lengthAdjust="spacingAndGlyphs" stroke="#000" stroke-width="0.45">0.47 meV</text>
<text x="71.4" y="531.8" font-family="'Liberation Serif', serif" font-size="33" textLength="63.8" lengthAdjust="spacingAndGlyphs" stroke="#000" stroke-width="0.45">InAs</text>
<text transform="translate(71.6,559.9) scale(0.87,1)" font-family="'Liberation Serif', serif" font-size="33" font-style="italic" stroke="#000" stroke-width="0.45">T</text>
<text x="88.5" y="565.3" font-family="'Liberation Serif', serif" font-size="24" font-style="italic" stroke="#000" stroke-width="0.45">d</text>
<text x="279.8" y="533" font-family="'Liberation Serif', serif" font-size="34" font-style="italic" stroke="#000" stroke-width="0.45">&#956;</text>
<text transform="translate(280.3,609.2) scale(1.02,0.84)" font-family="'Liberation Serif', serif" font-size="34" font-style="italic" stroke="#000" stroke-width="0.45">&#963;</text>
<rect x="309.5" y="519.3" width="20.4" height="2.5" fill="#000"/>
<rect x="309.5" y="526" width="20.4" height="2.5" fill="#000"/>
<rect x="310.3" y="596.2" width="20.4" height="2.5" fill="#000"/>
<rect x="310.3" y="602.9" width="20.4" height="2.5" fill="#000"/>
<text x="280" y="572" font-family="'Liberation Serif', serif" font-size="32" textLength="128.5" lengthAdjust="spacingAndGlyphs" stroke="#000" stroke-width="0.45">0.85 meV</text>
<text x="280" y="648.6" font-family="'Liberation Serif', serif" font-size="32" textLength="128.5" lengthAdjust="spacingAndGlyphs" stroke="#000" stroke-width="0.45">0.41 meV</text>
<text x="70.2" y="701.1" font-family="'Liberation Serif', serif" font-size="33" textLength="70.8" lengthAdjust="spacingAndGlyphs" stroke="#000" stroke-width="0.45">GaSb</text>
<text transform="translate(71.7,729.1) scale(0.87,1)" font-family="'Liberation Serif', serif" font-size="33" font-style="italic" stroke="#000" stroke-width="0.45">T</text>
<text x="88.5" y="735.8" font-family="'Liberation Serif', serif" font-size="24" font-style="italic" stroke="#000" stroke-width="0.45">d</text>
<text x="279.8" y="701" font-family="'Liberation Serif', serif" font-size="34" font-style="italic" stroke="#000" stroke-width="0.45">&#956;</text>
<text transform="translate(280.3,777.2) scale(1.02,0.84)" font-family="'Liberation Serif', serif" font-size="34" font-style="italic" stroke="#000" stroke-width="0.45">&#963;</text>
<rect x="309.5" y="687.3" width="20.4" height="2.5" fill="#000"/>
<rect x="309.5" y="694" width="20.4" height="2.5" fill="#000"/>
<rect x="310.3" y="764.2" width="20.4" height="2.5" fill="#000"/>
<rect x="310.3" y="770.9" width="20.4" height="2.5" fill="#000"/>
<text x="280" y="740" font-family="'Liberation Serif', serif" font-size="32" textLength="128.5" lengthAdjust="spacingAndGlyphs" stroke="#000" stroke-width="0.45">0.41 meV</text>
<text x="280" y="816.6" font-family="'Liberation Serif', serif" font-size="32" textLength="128.5" lengthAdjust="spacingAndGlyphs" stroke="#000" stroke-width="0.45">0.42 meV</text>
<text x="541.4" y="29.5" font-family="'Liberation Serif', serif" font-size="33" textLength="25.6" lengthAdjust="spacingAndGlyphs" stroke="#000" stroke-width="0.45">Si</text>
<text transform="translate(543.1,55.8) scale(0.8,1)" font-family="'Liberation Serif', serif" font-size="33" font-style="italic" stroke="#000" stroke-width="0.45">C</text>
<text x="560.5" y="63" font-family="'Liberation Serif', serif" font-size="24" stroke="#000" stroke-width="0.45">2</text>
<path transform="translate(574.7,50.6)" d="M0.2,1.9 Q1.3,0.2 2.5,1.3 Q3.2,2.2 3.5,5.5 L3.9,10.2 Q4.2,11.4 5.2,10.6 Q9.6,7.2 10.9,2.8 Q11.2,1.2 10.7,0.6" fill="none" stroke="#000" stroke-width="1.75" stroke-linecap="round" stroke-linejoin="round"/>
<text x="742.3" y="29.6" font-family="'Liberation Serif', serif" font-size="34" font-style="italic" stroke="#000" stroke-width="0.45">&#956;</text>
<text transform="translate(744.1,105.8) scale(1.02,0.84)" font-family="'Liberation Serif', serif" font-size="34" font-style="italic" stroke="#000" stroke-width="0.45">&#963;</text>
<text x="762" y="20.4" font-family="'Liberation Serif', serif" font-size="22">*</text>
<text x="764.6" y="96.9" font-family="'Liberation Serif', serif" font-size="22">*</text>
<rect x="784.8" y="15.9" width="20.4" height="2.5" fill="#000"/>
<rect x="784.8" y="22.6" width="20.4" height="2.5" fill="#000"/>
<rect x="787" y="92.6" width="20.4" height="2.5" fill="#000"/>
<rect x="787" y="99.3" width="20.4" height="2.5" fill="#000"/>
<text x="743.3" y="68.6" font-family="'Liberation Serif', serif" font-size="32" textLength="128.5" lengthAdjust="spacingAndGlyphs" stroke="#000" stroke-width="0.45">0.50 meV</text>
<text x="743.3" y="145.2" font-family="'Liberation Serif', serif" font-size="32" textLength="128.5" lengthAdjust="spacingAndGlyphs" stroke="#000" stroke-width="0.45">0.63 meV</text>
<text x="537.8" y="195.5" font-family="'Liberation Serif', serif" font-size="33" textLength="64.4" lengthAdjust="spacingAndGlyphs" stroke="#000" stroke-width="0.45">InAs</text>
<text transform="translate(539.7,223.1) scale(0.8,1)" font-family="'Liberation Serif', serif" font-size="33" font-style="italic" stroke="#000" stroke-width="0.45">C</text>
<text x="557" y="228.7" font-family="'Liberation Serif', serif" font-size="24" stroke="#000" stroke-width="0.45">3</text>
<path transform="translate(572.8,218.3)" d="M0.2,1.9 Q1.3,0.2 2.5,1.3 Q3.2,2.2 3.5,5.5 L3.9,10.2 Q4.2,11.4 5.2,10.6 Q9.6,7.2 10.9,2.8 Q11.2,1.2 10.7,0.6" fill="none" stroke="#000" stroke-width="1.75" stroke-linecap="round" stroke-linejoin="round"/>
<text x="742.3" y="195.5" font-family="'Liberation Serif', serif" font-size="34" font-style="italic" stroke="#000" stroke-width="0.45">&#956;</text>
<text transform="translate(744.1,271.7) scale(1.02,0.84)" font-family="'Liberation Serif', serif" font-size="34" font-style="italic" stroke="#000" stroke-width="0.45">&#963;</text>
<text x="762" y="186.3" font-family="'Liberation Serif', serif" font-size="22">*</text>
<text x="764.6" y="262.8" font-family="'Liberation Serif', serif" font-size="22">*</text>
<rect x="784.8" y="181.8" width="20.4" height="2.5" fill="#000"/>
<rect x="784.8" y="188.5" width="20.4" height="2.5" fill="#000"/>
<rect x="787" y="258.5" width="20.4" height="2.5" fill="#000"/>
<rect x="787" y="265.2" width="20.4" height="2.5" fill="#000"/>
<text x="743.3" y="234.5" font-family="'Liberation Serif', serif" font-size="32" textLength="128.5" lengthAdjust="spacingAndGlyphs" stroke="#000" stroke-width="0.45">0.93 meV</text>
<text x="743.3" y="311.1" font-family="'Liberation Serif', serif" font-size="32" textLength="128.5" lengthAdjust="spacingAndGlyphs" stroke="#000" stroke-width="0.45">0.77 meV</text>
<text x="538.6" y="364.6" font-family="'Liberation Serif', serif" font-size="33" textLength="71.3" lengthAdjust="spacingAndGlyphs" stroke="#000" stroke-width="0.45">GaSb</text>
<text transform="translate(538.7,391.6) scale(0.8,1)" font-family="'Liberation Serif', serif" font-size="33" font-style="italic" stroke="#000" stroke-width="0.45">C</text>
<text x="556.5" y="396.7" font-family="'Liberation Serif', serif" font-size="24" stroke="#000" stroke-width="0.45">3</text>
<rect x="572.4" y="385.2" width="1.9" height="12.3" fill="#111"/>
<text x="742.3" y="364.2" font-family="'Liberation Serif', serif" font-size="34" font-style="italic" stroke="#000" stroke-width="0.45">&#956;</text>
<text transform="translate(744.1,440.4) scale(1.02,0.84)" font-family="'Liberation Serif', serif" font-size="34" font-style="italic" stroke="#000" stroke-width="0.45">&#963;</text>
<rect x="784.8" y="350.5" width="20.4" height="2.5" fill="#000"/>
<rect x="784.8" y="357.2" width="20.4" height="2.5" fill="#000"/>
<rect x="787" y="427.2" width="20.4" height="2.5" fill="#000"/>
<rect x="787" y="433.9" width="20.4" height="2.5" fill="#000"/>
<rect x="765.8" y="424.2" width="1.6" height="1" fill="#777"/>
<rect x="769.0" y="424.0" width="1.6" height="1.6" fill="#333"/>
<rect x="772.6" y="424.2" width="1.9" height="1" fill="#777"/>
<text x="743.3" y="403.2" font-family="'Liberation Serif', serif" font-size="32" textLength="128.5" lengthAdjust="spacingAndGlyphs" stroke="#000" stroke-width="0.45">0.74 meV</text>
<text x="743.3" y="479.8" font-family="'Liberation Serif', serif" font-size="32" textLength="128.5" lengthAdjust="spacingAndGlyphs" stroke="#000" stroke-width="0.45">0.47 meV</text>
<text x="538.9" y="531.8" font-family="'Liberation Serif', serif" font-size="33" textLength="63.8" lengthAdjust="spacingAndGlyphs" stroke="#000" stroke-width="0.45">InAs</text>
<text transform="translate(539.1,559.9) scale(0.87,1)" font-family="'Liberation Serif', serif" font-size="33" font-style="italic" stroke="#000" stroke-width="0.45">T</text>
<text x="556" y="565.3" font-family="'Liberation Serif', serif" font-size="24" font-style="italic" stroke="#000" stroke-width="0.45">d</text>
<text x="742.3" y="533" font-family="'Liberation Serif', serif" font-size="34" font-style="italic" stroke="#000" stroke-width="0.45">&#956;</text>
<text transform="translate(744.1,609.2) scale(1.02,0.84)" font-family="'Liberation Serif', serif" font-size="34" font-style="italic" stroke="#000" stroke-width="0.45">&#963;</text>
<text x="762" y="523.8" font-family="'Liberation Serif', serif" font-size="22">*</text>
<text x="764.6" y="600.3" font-family="'Liberation Serif', serif" font-size="22">*</text>
<rect x="784.8" y="519.3" width="20.4" height="2.5" fill="#000"/>
<rect x="784.8" y="526" width="20.4" height="2.5" fill="#000"/>
<rect x="787" y="596" width="20.4" height="2.5" fill="#000"/>
<rect x="787" y="602.7" width="20.4" height="2.5" fill="#000"/>
<text x="743.3" y="572" font-family="'Liberation Serif', serif" font-size="32" textLength="128.5" lengthAdjust="spacingAndGlyphs" stroke="#000" stroke-width="0.45">0.76 meV</text>
<text x="743.3" y="648.6" font-family="'Liberation Serif', serif" font-size="32" textLength="128.5" lengthAdjust="spacingAndGlyphs" stroke="#000" stroke-width="0.45">0.35 meV</text>
<text x="537.7" y="701.1" font-family="'Liberation Serif', serif" font-size="33" textLength="70.8" lengthAdjust="spacingAndGlyphs" stroke="#000" stroke-width="0.45">GaSb</text>
<text transform="translate(539.2,729.1) scale(0.87,1)" font-family="'Liberation Serif', serif" font-size="33" font-style="italic" stroke="#000" stroke-width="0.45">T</text>
<text x="556" y="735.8" font-family="'Liberation Serif', serif" font-size="24" font-style="italic" stroke="#000" stroke-width="0.45">d</text>
<text x="742.3" y="701" font-family="'Liberation Serif', serif" font-size="34" font-style="italic" stroke="#000" stroke-width="0.45">&#956;</text>
<text transform="translate(744.1,777.2) scale(1.02,0.84)" font-family="'Liberation Serif', serif" font-size="34" font-style="italic" stroke="#000" stroke-width="0.45">&#963;</text>
<text x="762" y="691.8" font-family="'Liberation Serif', serif" font-size="22">*</text>
<text x="764.6" y="768.3" font-family="'Liberation Serif', serif" font-size="22">*</text>
<rect x="784.8" y="687.3" width="20.4" height="2.5" fill="#000"/>
<rect x="784.8" y="694" width="20.4" height="2.5" fill="#000"/>
<rect x="787" y="764" width="20.4" height="2.5" fill="#000"/>
<rect x="787" y="770.7" width="20.4" height="2.5" fill="#000"/>
<text x="743.3" y="740" font-family="'Liberation Serif', serif" font-size="32" textLength="128.5" lengthAdjust="spacingAndGlyphs" stroke="#000" stroke-width="0.45">0.47 meV</text>
<text x="743.3" y="816.6" font-family="'Liberation Serif', serif" font-size="32" textLength="128.5" lengthAdjust="spacingAndGlyphs" stroke="#000" stroke-width="0.45">0.47 meV</text>
<polygon points="233.2,11.2 273.4,45.8 266.6,51.5 194.1,50.4" fill="url(#pSi)" />
<polygon points="216.8,177.7 266.2,178.2 271.7,197.2 268,227.1 239,230.3 218.1,226.2 212.7,206.3" fill="url(#pInMix)" />
<polygon points="262.5,179.5 266.2,178.2 271.7,197.2 268,227.1 239,230.3 244,222 258,206 260,190" fill="url(#pInCy)" />
<polygon points="216.8,177.7 240,175.5 266.2,178.2 262,181.5 240,180 217.5,181" fill="#d83030" opacity="0.8"/>
<polygon points="216.8,177.7 212.7,206.3 218.1,226.2 232,229.6 224,223 218,205 219.8,180" fill="#d83030" opacity="0.55"/>
<polygon points="214.5,349.7 240.8,347 264.4,349.7 269.8,369.7 265.3,398.7 236.3,401.9 215.4,397.8 210,377.8" fill="url(#pGaMix)" />
<polygon points="260.5,351.5 264.4,349.7 269.8,369.7 265.3,398.7 236.3,401.9 242,394 256,376 258,360" fill="url(#pGaPu)" />
<polygon points="214.5,349.7 240.8,347 264.4,349.7 260,353.5 240,351.5 215,353" fill="#e0901e" opacity="0.8"/>
<polygon points="214.5,349.7 210,377.8 215.4,397.8 228,401 220,394 214.5,377 217.5,352" fill="#e0901e" opacity="0.5"/>
<polygon points="215.9,516.8 237.6,514.5 256.7,520 267.6,541.3 264,561.2 245.8,571.2 226.7,570.3 212.2,562.1 206.8,546.7 210.4,528.6" fill="url(#pInTd)" />
<polygon points="210.4,528.6 214.5,520 218,517.5 228,519.5 231,523 225,532 214,543 208.5,540" fill="url(#pInStr1)" />
<polygon points="267.6,541.3 264,561.2 250,569.5 244,566 249,553 258,542 263,536" fill="url(#pInStr2)" />
<polygon points="215.9,687.1 240.4,685.2 258.5,691.1 267.6,713.8 263,731 235.8,741.9 213.1,734.7 205.9,716.5 211.3,693.9" fill="url(#pGaTd)" />
<polygon points="211.3,693.9 214.5,689 218,687.5 229,690 232,694 225,703 213,713 207.5,709" fill="url(#pGaStr1)" />
<polygon points="267.6,713.8 263,731 250,738.5 244,735 249,722 258,712 263,707" fill="url(#pGaStr2)" />
<polygon points="694.4,11.2 734.6,45.8 727.8,51.5 655.3,50.4" fill="url(#pSi)" />
<polygon points="678,177.7 727.4,178.2 732.9,197.2 729.2,227.1 700.2,230.3 679.3,226.2 673.9,206.3" fill="url(#pInMix)" />
<polygon points="723.7,179.5 727.4,178.2 732.9,197.2 729.2,227.1 700.2,230.3 705.2,222 719.2,206 721.2,190" fill="url(#pInCy)" />
<polygon points="678,177.7 701.2,175.5 727.4,178.2 723.2,181.5 701.2,180 678.7,181" fill="#d83030" opacity="0.8"/>
<polygon points="678,177.7 673.9,206.3 679.3,226.2 693.2,229.6 685.2,223 679.2,205 681,180" fill="#d83030" opacity="0.55"/>
<polygon points="675.7,349.7 702,347 725.6,349.7 731,369.7 726.5,398.7 697.5,401.9 676.6,397.8 671.2,377.8" fill="url(#pGaMix)" />
<polygon points="721.7,351.5 725.6,349.7 731,369.7 726.5,398.7 697.5,401.9 703.2,394 717.2,376 719.2,360" fill="url(#pGaPu)" />
<polygon points="675.7,349.7 702,347 725.6,349.7 721.2,353.5 701.2,351.5 676.2,353" fill="#e0901e" opacity="0.8"/>
<polygon points="675.7,349.7 671.2,377.8 676.6,397.8 689.2,401 681.2,394 675.7,377 678.7,352" fill="#e0901e" opacity="0.5"/>
<polygon points="677.1,516.8 698.8,514.5 717.9,520 728.8,541.3 725.2,561.2 707,571.2 687.9,570.3 673.4,562.1 668,546.7 671.6,528.6" fill="url(#pInTd)" />
<polygon points="671.6,528.6 675.7,520 679.2,517.5 689.2,519.5 692.2,523 686.2,532 675.2,543 669.7,540" fill="url(#pInStr1)" />
<polygon points="728.8,541.3 725.2,561.2 711.2,569.5 705.2,566 710.2,553 719.2,542 724.2,536" fill="url(#pInStr2)" />
<polygon points="677.1,687.1 701.6,685.2 719.7,691.1 728.8,713.8 724.2,731 697,741.9 674.3,734.7 667.1,716.5 672.5,693.9" fill="url(#pGaTd)" />
<polygon points="672.5,693.9 675.7,689 679.2,687.5 690.2,690 693.2,694 686.2,703 674.2,713 668.7,709" fill="url(#pGaStr1)" />
<polygon points="728.8,713.8 724.2,731 711.2,738.5 705.2,735 710.2,722 719.2,712 724.2,707" fill="url(#pGaStr2)" />
</svg>
</body></html>
